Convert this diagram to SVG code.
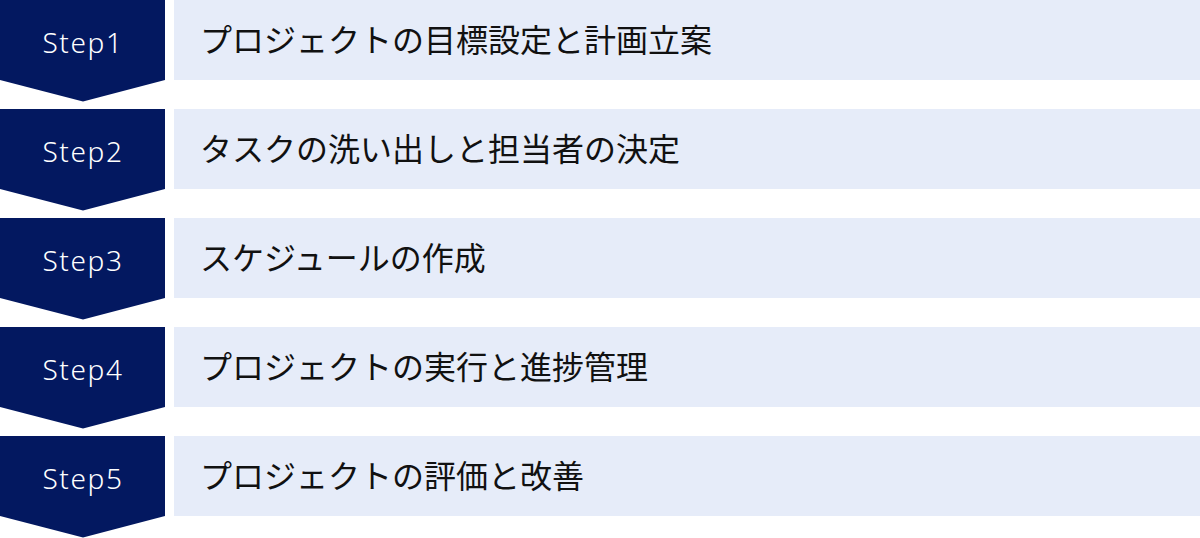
<svg xmlns="http://www.w3.org/2000/svg" width="1200" height="538" viewBox="0 0 1200 538">
<style>
.arrow{fill:#031860}
.box{fill:#e6ecf9}
.step{font-family:"Noto Sans","Noto Sans CJK JP",sans-serif;font-size:28px;font-weight:300;fill:#ffffff;text-anchor:middle;letter-spacing:1.6px}
.label{font-family:"Noto Sans CJK JP",sans-serif;font-size:32px;fill:#111111}
</style>
<rect width="1200" height="538" fill="#ffffff"/>
<g id="step1">
<path class="arrow" d="M0 0H165V80L83 101.5L0 80Z"/>
<rect class="box" x="174" y="0" width="1026" height="80"/>
<text class="step" x="83" y="53">Step1</text>
<text class="label" x="200" y="52">プロジェクトの目標設定と計画立案</text>
</g>
<g id="step2">
<path class="arrow" d="M0 109H165V189L83 210.5L0 189Z"/>
<rect class="box" x="174" y="109" width="1026" height="80"/>
<text class="step" x="83" y="162">Step2</text>
<text class="label" x="200" y="161">タスクの洗い出しと担当者の決定</text>
</g>
<g id="step3">
<path class="arrow" d="M0 218H165V298L83 319.5L0 298Z"/>
<rect class="box" x="174" y="218" width="1026" height="80"/>
<text class="step" x="83" y="271">Step3</text>
<text class="label" x="200" y="270">スケジュールの作成</text>
</g>
<g id="step4">
<path class="arrow" d="M0 327H165V407L83 428.5L0 407Z"/>
<rect class="box" x="174" y="327" width="1026" height="80"/>
<text class="step" x="83" y="380">Step4</text>
<text class="label" x="200" y="379">プロジェクトの実行と進捗管理</text>
</g>
<g id="step5">
<path class="arrow" d="M0 436H165V516L83 537.5L0 516Z"/>
<rect class="box" x="174" y="436" width="1026" height="80"/>
<text class="step" x="83" y="489">Step5</text>
<text class="label" x="200" y="488">プロジェクトの評価と改善</text>
</g>
<g id="connectors"></g>
</svg>
